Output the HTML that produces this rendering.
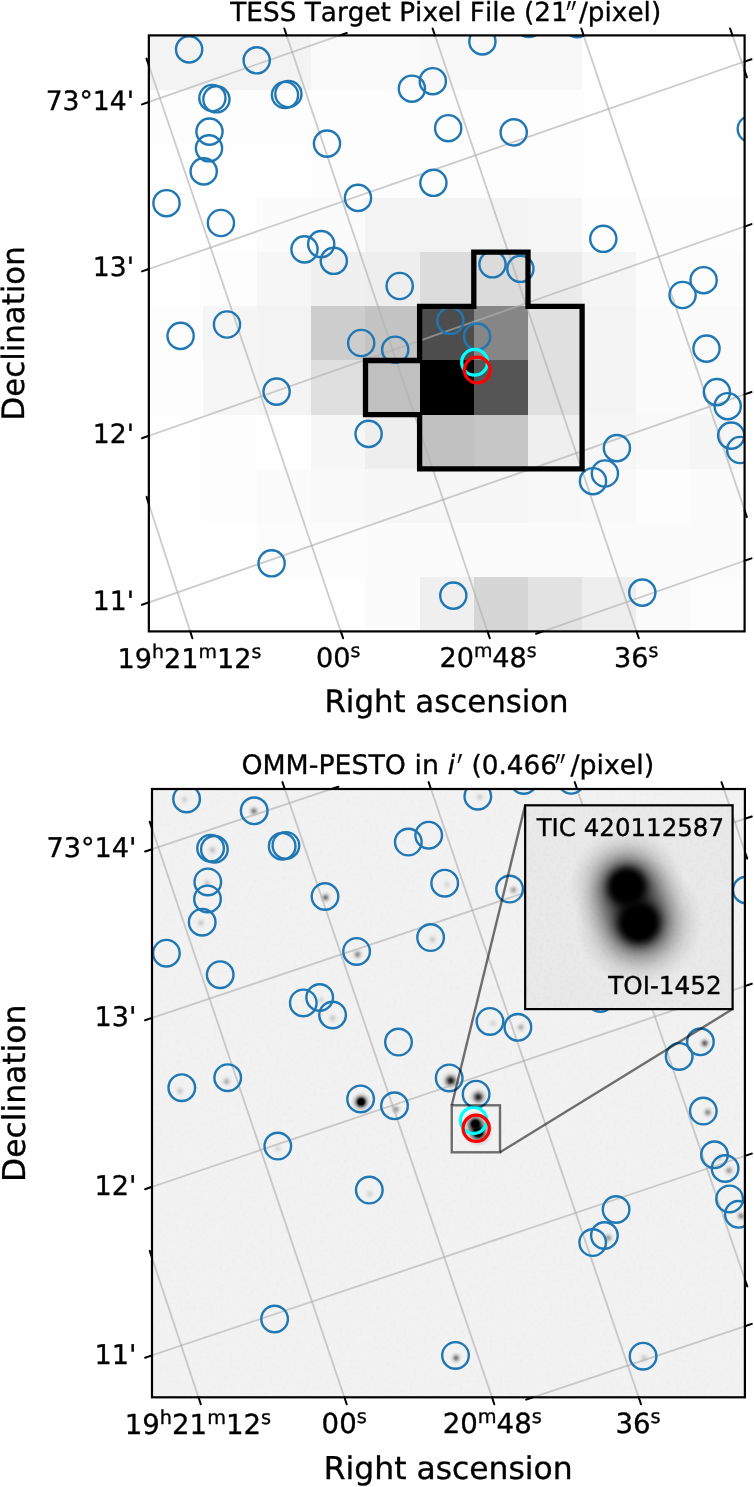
<!DOCTYPE html>
<html><head><meta charset="utf-8"><title>TESS Target Pixel File / OMM-PESTO</title>
<style>
html,body{margin:0;padding:0;background:#fff}
svg{display:block}
text{font-family:'DejaVu Sans','Liberation Sans',sans-serif;fill:#000;stroke:#000;stroke-width:0.35px;stroke-linejoin:round;font-kerning:none;text-rendering:geometricPrecision}
</style></head><body>
<svg width="754" height="1487" viewBox="0 0 754 1487">
<defs>
<clipPath id="ct"><rect x="148.85" y="35.4" width="595.75" height="596.00"/></clipPath>
<clipPath id="cb"><rect x="152.0" y="789.0" width="592.90" height="608.30"/></clipPath>
<clipPath id="ci"><rect x="525.15" y="805.3" width="207.45" height="203.80"/></clipPath>
<filter id="noise" x="0" y="0" width="100%" height="100%">
<feTurbulence type="fractalNoise" baseFrequency="0.3" numOctaves="2" seed="3" result="n"/>
<feColorMatrix type="matrix" values="0 0 0 0 0  0 0 0 0 0  0 0 0 0 0  0.9 0 0 0 -0.38"/>
</filter>
<radialGradient id="gs">
<stop offset="0.0" stop-color="#000" stop-opacity="1.000"/>
<stop offset="0.1" stop-color="#000" stop-opacity="0.956"/>
<stop offset="0.2" stop-color="#000" stop-opacity="0.835"/>
<stop offset="0.3" stop-color="#000" stop-opacity="0.667"/>
<stop offset="0.4" stop-color="#000" stop-opacity="0.487"/>
<stop offset="0.5" stop-color="#000" stop-opacity="0.325"/>
<stop offset="0.6" stop-color="#000" stop-opacity="0.198"/>
<stop offset="0.7" stop-color="#000" stop-opacity="0.110"/>
<stop offset="0.8" stop-color="#000" stop-opacity="0.056"/>
<stop offset="0.9" stop-color="#000" stop-opacity="0.026"/>
<stop offset="1.0" stop-color="#000" stop-opacity="0.000"/>
</radialGradient>
<radialGradient id="gsat">
<stop offset="0.0" stop-color="#000" stop-opacity="1.000"/>
<stop offset="0.05" stop-color="#000" stop-opacity="1.000"/>
<stop offset="0.1" stop-color="#000" stop-opacity="1.000"/>
<stop offset="0.15" stop-color="#000" stop-opacity="1.000"/>
<stop offset="0.2" stop-color="#000" stop-opacity="1.000"/>
<stop offset="0.25" stop-color="#000" stop-opacity="1.000"/>
<stop offset="0.3" stop-color="#000" stop-opacity="0.967"/>
<stop offset="0.35" stop-color="#000" stop-opacity="0.836"/>
<stop offset="0.4" stop-color="#000" stop-opacity="0.706"/>
<stop offset="0.45" stop-color="#000" stop-opacity="0.583"/>
<stop offset="0.5" stop-color="#000" stop-opacity="0.471"/>
<stop offset="0.55" stop-color="#000" stop-opacity="0.372"/>
<stop offset="0.6" stop-color="#000" stop-opacity="0.287"/>
<stop offset="0.65" stop-color="#000" stop-opacity="0.217"/>
<stop offset="0.7" stop-color="#000" stop-opacity="0.160"/>
<stop offset="0.75" stop-color="#000" stop-opacity="0.115"/>
<stop offset="0.8" stop-color="#000" stop-opacity="0.081"/>
<stop offset="0.85" stop-color="#000" stop-opacity="0.056"/>
<stop offset="0.9" stop-color="#000" stop-opacity="0.038"/>
<stop offset="0.95" stop-color="#000" stop-opacity="0.025"/>
<stop offset="1.0" stop-color="#000" stop-opacity="0.000"/>
</radialGradient>
<radialGradient id="psf">
<stop offset="0" stop-color="#000" stop-opacity="1"/>
<stop offset="0.234" stop-color="#000" stop-opacity="1"/>
<stop offset="0.281" stop-color="#000" stop-opacity="0.93"/>
<stop offset="0.328" stop-color="#000" stop-opacity="0.8"/>
<stop offset="0.375" stop-color="#000" stop-opacity="0.65"/>
<stop offset="0.422" stop-color="#000" stop-opacity="0.52"/>
<stop offset="0.469" stop-color="#000" stop-opacity="0.42"/>
<stop offset="0.531" stop-color="#000" stop-opacity="0.32"/>
<stop offset="0.594" stop-color="#000" stop-opacity="0.24"/>
<stop offset="0.672" stop-color="#000" stop-opacity="0.16"/>
<stop offset="0.766" stop-color="#000" stop-opacity="0.09"/>
<stop offset="0.875" stop-color="#000" stop-opacity="0.04"/>
<stop offset="1" stop-color="#000" stop-opacity="0"/>
</radialGradient>
</defs>
<rect width="754" height="1487" fill="#fff"/>

<g clip-path="url(#ct)">
<g shape-rendering="crispEdges">
<rect x="148.85" y="35.40" width="54.56" height="54.58" fill="#f3f3f3"/>
<rect x="203.01" y="35.40" width="54.56" height="54.58" fill="#f3f3f3"/>
<rect x="257.17" y="35.40" width="54.56" height="54.58" fill="#f3f3f3"/>
<rect x="311.33" y="35.40" width="54.56" height="54.58" fill="#fafafa"/>
<rect x="365.49" y="35.40" width="54.56" height="54.58" fill="#fafafa"/>
<rect x="419.65" y="35.40" width="54.56" height="54.58" fill="#f8f8f8"/>
<rect x="473.80" y="35.40" width="54.56" height="54.58" fill="#f8f8f8"/>
<rect x="527.96" y="35.40" width="54.56" height="54.58" fill="#f8f8f8"/>
<rect x="582.12" y="35.40" width="54.56" height="54.58" fill="#fefefe"/>
<rect x="636.28" y="35.40" width="54.56" height="54.58" fill="#fefefe"/>
<rect x="690.44" y="35.40" width="54.56" height="54.58" fill="#fefefe"/>
<rect x="148.85" y="89.58" width="54.56" height="54.58" fill="#fdfdfd"/>
<rect x="203.01" y="89.58" width="54.56" height="54.58" fill="#fdfdfd"/>
<rect x="257.17" y="89.58" width="54.56" height="54.58" fill="#fdfdfd"/>
<rect x="311.33" y="89.58" width="54.56" height="54.58" fill="#fdfdfd"/>
<rect x="365.49" y="89.58" width="54.56" height="54.58" fill="#fdfdfd"/>
<rect x="419.65" y="89.58" width="54.56" height="54.58" fill="#fdfdfd"/>
<rect x="473.80" y="89.58" width="54.56" height="54.58" fill="#fdfdfd"/>
<rect x="527.96" y="89.58" width="54.56" height="54.58" fill="#fdfdfd"/>
<rect x="582.12" y="89.58" width="54.56" height="54.58" fill="#fefefe"/>
<rect x="636.28" y="89.58" width="54.56" height="54.58" fill="#fefefe"/>
<rect x="690.44" y="89.58" width="54.56" height="54.58" fill="#fefefe"/>
<rect x="148.85" y="143.76" width="54.56" height="54.58" fill="#fefefe"/>
<rect x="203.01" y="143.76" width="54.56" height="54.58" fill="#fefefe"/>
<rect x="257.17" y="143.76" width="54.56" height="54.58" fill="#fefefe"/>
<rect x="311.33" y="143.76" width="54.56" height="54.58" fill="#fdfdfd"/>
<rect x="365.49" y="143.76" width="54.56" height="54.58" fill="#fdfdfd"/>
<rect x="419.65" y="143.76" width="54.56" height="54.58" fill="#fdfdfd"/>
<rect x="473.80" y="143.76" width="54.56" height="54.58" fill="#fdfdfd"/>
<rect x="527.96" y="143.76" width="54.56" height="54.58" fill="#fdfdfd"/>
<rect x="582.12" y="143.76" width="54.56" height="54.58" fill="#fefefe"/>
<rect x="636.28" y="143.76" width="54.56" height="54.58" fill="#fefefe"/>
<rect x="690.44" y="143.76" width="54.56" height="54.58" fill="#fefefe"/>
<rect x="148.85" y="197.95" width="54.56" height="54.58" fill="#fefefe"/>
<rect x="203.01" y="197.95" width="54.56" height="54.58" fill="#fefefe"/>
<rect x="257.17" y="197.95" width="54.56" height="54.58" fill="#fbfbfb"/>
<rect x="311.33" y="197.95" width="54.56" height="54.58" fill="#fbfbfb"/>
<rect x="365.49" y="197.95" width="54.56" height="54.58" fill="#f3f3f3"/>
<rect x="419.65" y="197.95" width="54.56" height="54.58" fill="#f3f3f3"/>
<rect x="473.80" y="197.95" width="54.56" height="54.58" fill="#f3f3f3"/>
<rect x="527.96" y="197.95" width="54.56" height="54.58" fill="#f6f6f6"/>
<rect x="582.12" y="197.95" width="54.56" height="54.58" fill="#fdfdfd"/>
<rect x="636.28" y="197.95" width="54.56" height="54.58" fill="#fdfdfd"/>
<rect x="690.44" y="197.95" width="54.56" height="54.58" fill="#fdfdfd"/>
<rect x="148.85" y="252.13" width="54.56" height="54.58" fill="#fefefe"/>
<rect x="203.01" y="252.13" width="54.56" height="54.58" fill="#fdfdfd"/>
<rect x="257.17" y="252.13" width="54.56" height="54.58" fill="#f6f6f6"/>
<rect x="311.33" y="252.13" width="54.56" height="54.58" fill="#f0f0f0"/>
<rect x="365.49" y="252.13" width="54.56" height="54.58" fill="#eeeeee"/>
<rect x="419.65" y="252.13" width="54.56" height="54.58" fill="#dcdcdc"/>
<rect x="473.80" y="252.13" width="54.56" height="54.58" fill="#dbdbdb"/>
<rect x="527.96" y="252.13" width="54.56" height="54.58" fill="#ebebeb"/>
<rect x="582.12" y="252.13" width="54.56" height="54.58" fill="#f5f5f5"/>
<rect x="636.28" y="252.13" width="54.56" height="54.58" fill="#fcfcfc"/>
<rect x="690.44" y="252.13" width="54.56" height="54.58" fill="#fcfcfc"/>
<rect x="148.85" y="306.31" width="54.56" height="54.58" fill="#fdfdfd"/>
<rect x="203.01" y="306.31" width="54.56" height="54.58" fill="#f5f5f5"/>
<rect x="257.17" y="306.31" width="54.56" height="54.58" fill="#f3f3f3"/>
<rect x="311.33" y="306.31" width="54.56" height="54.58" fill="#cdcdcd"/>
<rect x="365.49" y="306.31" width="54.56" height="54.58" fill="#c4c4c4"/>
<rect x="419.65" y="306.31" width="54.56" height="54.58" fill="#4d4d4d"/>
<rect x="473.80" y="306.31" width="54.56" height="54.58" fill="#868686"/>
<rect x="527.96" y="306.31" width="54.56" height="54.58" fill="#e1e1e1"/>
<rect x="582.12" y="306.31" width="54.56" height="54.58" fill="#f3f3f3"/>
<rect x="636.28" y="306.31" width="54.56" height="54.58" fill="#fbfbfb"/>
<rect x="690.44" y="306.31" width="54.56" height="54.58" fill="#fafafa"/>
<rect x="148.85" y="360.49" width="54.56" height="54.58" fill="#fdfdfd"/>
<rect x="203.01" y="360.49" width="54.56" height="54.58" fill="#f6f6f6"/>
<rect x="257.17" y="360.49" width="54.56" height="54.58" fill="#f4f4f4"/>
<rect x="311.33" y="360.49" width="54.56" height="54.58" fill="#dfdfdf"/>
<rect x="365.49" y="360.49" width="54.56" height="54.58" fill="#c0c0c0"/>
<rect x="419.65" y="360.49" width="54.56" height="54.58" fill="#000000"/>
<rect x="473.80" y="360.49" width="54.56" height="54.58" fill="#555555"/>
<rect x="527.96" y="360.49" width="54.56" height="54.58" fill="#e0e0e0"/>
<rect x="582.12" y="360.49" width="54.56" height="54.58" fill="#f4f4f4"/>
<rect x="636.28" y="360.49" width="54.56" height="54.58" fill="#fbfbfb"/>
<rect x="690.44" y="360.49" width="54.56" height="54.58" fill="#fafafa"/>
<rect x="148.85" y="414.67" width="54.56" height="54.58" fill="#fefefe"/>
<rect x="203.01" y="414.67" width="54.56" height="54.58" fill="#fdfdfd"/>
<rect x="257.17" y="414.67" width="54.56" height="54.58" fill="#fefefe"/>
<rect x="311.33" y="414.67" width="54.56" height="54.58" fill="#f7f7f7"/>
<rect x="365.49" y="414.67" width="54.56" height="54.58" fill="#eeeeee"/>
<rect x="419.65" y="414.67" width="54.56" height="54.58" fill="#c1c1c1"/>
<rect x="473.80" y="414.67" width="54.56" height="54.58" fill="#c6c6c6"/>
<rect x="527.96" y="414.67" width="54.56" height="54.58" fill="#efefef"/>
<rect x="582.12" y="414.67" width="54.56" height="54.58" fill="#f6f6f6"/>
<rect x="636.28" y="414.67" width="54.56" height="54.58" fill="#f9f9f9"/>
<rect x="690.44" y="414.67" width="54.56" height="54.58" fill="#f5f5f5"/>
<rect x="148.85" y="468.85" width="54.56" height="54.58" fill="#fefefe"/>
<rect x="203.01" y="468.85" width="54.56" height="54.58" fill="#fdfdfd"/>
<rect x="257.17" y="468.85" width="54.56" height="54.58" fill="#fbfbfb"/>
<rect x="311.33" y="468.85" width="54.56" height="54.58" fill="#f9f9f9"/>
<rect x="365.49" y="468.85" width="54.56" height="54.58" fill="#f7f7f7"/>
<rect x="419.65" y="468.85" width="54.56" height="54.58" fill="#f7f7f7"/>
<rect x="473.80" y="468.85" width="54.56" height="54.58" fill="#f7f7f7"/>
<rect x="527.96" y="468.85" width="54.56" height="54.58" fill="#f8f8f8"/>
<rect x="582.12" y="468.85" width="54.56" height="54.58" fill="#f9f9f9"/>
<rect x="636.28" y="468.85" width="54.56" height="54.58" fill="#fdfdfd"/>
<rect x="690.44" y="468.85" width="54.56" height="54.58" fill="#fbfbfb"/>
<rect x="148.85" y="523.04" width="54.56" height="54.58" fill="#fefefe"/>
<rect x="203.01" y="523.04" width="54.56" height="54.58" fill="#fefefe"/>
<rect x="257.17" y="523.04" width="54.56" height="54.58" fill="#fcfcfc"/>
<rect x="311.33" y="523.04" width="54.56" height="54.58" fill="#fcfcfc"/>
<rect x="365.49" y="523.04" width="54.56" height="54.58" fill="#fbfbfb"/>
<rect x="419.65" y="523.04" width="54.56" height="54.58" fill="#fbfbfb"/>
<rect x="473.80" y="523.04" width="54.56" height="54.58" fill="#fbfbfb"/>
<rect x="527.96" y="523.04" width="54.56" height="54.58" fill="#fbfbfb"/>
<rect x="582.12" y="523.04" width="54.56" height="54.58" fill="#fbfbfb"/>
<rect x="636.28" y="523.04" width="54.56" height="54.58" fill="#fbfbfb"/>
<rect x="690.44" y="523.04" width="54.56" height="54.58" fill="#fbfbfb"/>
<rect x="148.85" y="577.22" width="54.56" height="54.58" fill="#fefefe"/>
<rect x="203.01" y="577.22" width="54.56" height="54.58" fill="#fefefe"/>
<rect x="257.17" y="577.22" width="54.56" height="54.58" fill="#fefefe"/>
<rect x="311.33" y="577.22" width="54.56" height="54.58" fill="#fefefe"/>
<rect x="365.49" y="577.22" width="54.56" height="54.58" fill="#fbfbfb"/>
<rect x="419.65" y="577.22" width="54.56" height="54.58" fill="#efefef"/>
<rect x="473.80" y="577.22" width="54.56" height="54.58" fill="#d6d6d6"/>
<rect x="527.96" y="577.22" width="54.56" height="54.58" fill="#e2e2e2"/>
<rect x="582.12" y="577.22" width="54.56" height="54.58" fill="#eeeeee"/>
<rect x="636.28" y="577.22" width="54.56" height="54.58" fill="#fafafa"/>
<rect x="690.44" y="577.22" width="54.56" height="54.58" fill="#fdfdfd"/>
</g>
<g stroke="#b0b0b0" stroke-opacity="0.65" stroke-width="1.8" fill="none">
<line x1="-701.0" y1="398.3" x2="1189.7" y2="-260.9"/>
<line x1="-700.4" y1="564.8" x2="1594.4" y2="-234.4"/>
<line x1="-699.6" y1="733.9" x2="1593.6" y2="-71.7"/>
<line x1="-700.2" y1="898.9" x2="1594.2" y2="97.7"/>
<line x1="-306.4" y1="928.9" x2="1594.0" y2="263.3"/>
<line x1="-127.9" y1="-350.3" x2="467.3" y2="1486.8"/>
<line x1="-139.6" y1="-784.9" x2="629.6" y2="1482.9"/>
<line x1="-0.7" y1="-817.3" x2="774.6" y2="1483.5"/>
<line x1="146.7" y1="-817.0" x2="924.5" y2="1483.2"/>
<line x1="294.7" y1="-816.7" x2="1033.5" y2="1362.2"/>
<line x1="439.2" y1="-815.5" x2="1037.9" y2="921.4"/>
</g>
<g fill="none" stroke="#1f77b4" stroke-width="2.4">
<circle cx="189.1" cy="49.4" r="13.1"/>
<circle cx="256.7" cy="60.3" r="13.1"/>
<circle cx="212.4" cy="98.0" r="13.1"/>
<circle cx="216.4" cy="99.3" r="13.1"/>
<circle cx="285.0" cy="95.0" r="13.1"/>
<circle cx="288.4" cy="94.0" r="13.1"/>
<circle cx="209.5" cy="131.6" r="13.1"/>
<circle cx="209.0" cy="148.3" r="13.1"/>
<circle cx="203.7" cy="171.4" r="13.1"/>
<circle cx="166.5" cy="203.2" r="13.1"/>
<circle cx="327.0" cy="143.6" r="13.1"/>
<circle cx="220.9" cy="223.0" r="13.1"/>
<circle cx="482.4" cy="41.4" r="13.1"/>
<circle cx="528.9" cy="24.0" r="13.1"/>
<circle cx="411.9" cy="88.7" r="13.1"/>
<circle cx="432.8" cy="81.2" r="13.1"/>
<circle cx="448.2" cy="128.2" r="13.1"/>
<circle cx="513.7" cy="132.4" r="13.1"/>
<circle cx="433.4" cy="182.8" r="13.1"/>
<circle cx="358.0" cy="197.9" r="13.1"/>
<circle cx="577.3" cy="24.1" r="13.1"/>
<circle cx="750.8" cy="129.0" r="13.1"/>
<circle cx="304.5" cy="249.4" r="13.1"/>
<circle cx="321.2" cy="244.1" r="13.1"/>
<circle cx="333.8" cy="260.8" r="13.1"/>
<circle cx="180.6" cy="335.9" r="13.1"/>
<circle cx="227.0" cy="324.5" r="13.1"/>
<circle cx="276.6" cy="391.6" r="13.1"/>
<circle cx="399.7" cy="286.0" r="13.1"/>
<circle cx="492.5" cy="264.3" r="13.1"/>
<circle cx="520.4" cy="268.8" r="13.1"/>
<circle cx="361.2" cy="343.0" r="13.1"/>
<circle cx="395.2" cy="349.7" r="13.1"/>
<circle cx="450.4" cy="320.8" r="13.1"/>
<circle cx="477.1" cy="336.6" r="13.1"/>
<circle cx="368.6" cy="433.9" r="13.1"/>
<circle cx="603.3" cy="238.8" r="13.1"/>
<circle cx="682.6" cy="295.0" r="13.1"/>
<circle cx="703.6" cy="280.2" r="13.1"/>
<circle cx="706.5" cy="348.6" r="13.1"/>
<circle cx="716.9" cy="392.1" r="13.1"/>
<circle cx="727.7" cy="406.2" r="13.1"/>
<circle cx="731.2" cy="435.6" r="13.1"/>
<circle cx="271.6" cy="563.3" r="13.1"/>
<circle cx="453.3" cy="595.6" r="13.1"/>
<circle cx="740.2" cy="450.0" r="13.1"/>
<circle cx="616.9" cy="448.1" r="13.1"/>
<circle cx="604.9" cy="473.5" r="13.1"/>
<circle cx="593.0" cy="481.2" r="13.1"/>
<circle cx="642.3" cy="592.6" r="13.1"/>
</g>
<path d="M419.6,306.3 L473.8,306.3 L473.8,252.1 L528.0,252.1 L528.0,306.3 L582.1,306.3 L582.1,468.9 L419.6,468.9 L419.6,414.7 L365.5,414.7 L365.5,360.5 L419.6,360.5 Z" fill="none" stroke="#000" stroke-width="5.3" stroke-linejoin="miter"/>
<circle cx="474.6" cy="362.2" r="12.9" fill="none" stroke="#00ffff" stroke-width="3.3"/>
<circle cx="477.3" cy="370.0" r="12.9" fill="none" stroke="#ff0000" stroke-width="3.3"/>
</g>
<rect x="148.85" y="35.4" width="595.75" height="596.00" fill="none" stroke="#000" stroke-width="2.2"/>
<g stroke="#000" stroke-width="2" stroke-linecap="round">
<line x1="148.8" y1="102.0" x2="142.0" y2="104.4"/>
<line x1="339.9" y1="35.4" x2="346.8" y2="33.0"/>
<line x1="148.8" y1="269.0" x2="142.0" y2="271.4"/>
<line x1="744.6" y1="61.6" x2="751.5" y2="59.2"/>
<line x1="148.8" y1="435.8" x2="142.0" y2="438.2"/>
<line x1="744.6" y1="226.6" x2="751.5" y2="224.1"/>
<line x1="148.8" y1="602.4" x2="142.0" y2="604.8"/>
<line x1="744.6" y1="394.4" x2="751.5" y2="392.0"/>
<line x1="543.0" y1="631.4" x2="536.1" y2="633.8"/>
<line x1="744.6" y1="560.8" x2="751.5" y2="558.4"/>
<line x1="148.8" y1="503.9" x2="146.6" y2="496.9"/>
<line x1="190.2" y1="631.4" x2="192.4" y2="638.3"/>
<line x1="148.8" y1="65.5" x2="146.5" y2="58.6"/>
<line x1="340.8" y1="631.4" x2="343.1" y2="638.3"/>
<line x1="286.6" y1="35.4" x2="284.3" y2="28.5"/>
<line x1="487.5" y1="631.4" x2="489.8" y2="638.3"/>
<line x1="434.9" y1="35.4" x2="432.6" y2="28.5"/>
<line x1="636.5" y1="631.4" x2="638.8" y2="638.3"/>
<line x1="583.6" y1="35.4" x2="581.3" y2="28.5"/>
<line x1="744.6" y1="510.2" x2="746.9" y2="517.1"/>
<line x1="732.5" y1="35.4" x2="730.1" y2="28.5"/>
<line x1="744.6" y1="70.5" x2="747.0" y2="77.4"/>
</g>
<text x="230.3" y="20.7" font-size="26.3">TESS Target Pixel File (21</text><text transform="translate(566.24,36.40) scale(1,2.04)" font-size="23.40" letter-spacing="-0.3" style="stroke-width:0.2px">&#8242;&#8242;</text><text x="579.0" y="20.7" font-size="26.3">/pixel)</text>
<g font-size="26.6">
<text x="189.40" y="667.60" text-anchor="middle" font-size="27.1"><tspan>19</tspan><tspan dy="-9.84" font-size="18.97">h</tspan><tspan dy="9.84">21</tspan><tspan dy="-9.84" font-size="18.97">m</tspan><tspan dy="9.84">12</tspan><tspan dy="-9.84" font-size="18.97">s</tspan></text>
<text x="338.25" y="666.70" text-anchor="middle" font-size="27.1"><tspan>00</tspan><tspan dy="-9.84" font-size="18.97">s</tspan></text>
<text x="488.05" y="666.70" text-anchor="middle" font-size="27.1"><tspan>20</tspan><tspan dy="-9.84" font-size="18.97">m</tspan><tspan dy="9.84">48</tspan><tspan dy="-9.84" font-size="18.97">s</tspan></text>
<text x="636.15" y="666.70" text-anchor="middle" font-size="27.1"><tspan>36</tspan><tspan dy="-9.84" font-size="18.97">s</tspan></text>
<text x="134.00" y="109.70" text-anchor="end">73°14'</text>
<text x="134.00" y="276.00" text-anchor="end">13'</text>
<text x="134.00" y="442.90" text-anchor="end">12'</text>
<text x="134.00" y="610.00" text-anchor="end">11'</text>
</g>
<text x="446.55" y="712.20" font-size="30.8" text-anchor="middle">Right ascension</text>
<text transform="translate(24.30,333.35) rotate(-90)" font-size="30.8" text-anchor="middle">Declination</text>
<g clip-path="url(#cb)">
<rect x="152.0" y="789.0" width="592.90" height="608.30" fill="#f2f2f2"/>
<rect x="152.0" y="789.0" width="592.90" height="608.30" fill="#000" filter="url(#noise)" opacity="0.04"/>
<circle cx="361.1" cy="1101.9" r="10.2" fill="url(#gsat)"/>
<circle cx="450.7" cy="1080.7" r="10.2" fill="url(#gs)" fill-opacity="0.9"/>
<circle cx="478.3" cy="1097.1" r="10.2" fill="url(#gs)" fill-opacity="0.85"/>
<circle cx="395.8" cy="1109.5" r="6.9" fill="url(#gs)" fill-opacity="0.35"/>
<circle cx="253.9" cy="811.1" r="6.9" fill="url(#gs)" fill-opacity="0.45"/>
<circle cx="325.6" cy="897.5" r="6.9" fill="url(#gs)" fill-opacity="0.5"/>
<circle cx="212.3" cy="850.0" r="6.9" fill="url(#gs)" fill-opacity="0.18"/>
<circle cx="207.0" cy="883.0" r="6.9" fill="url(#gs)" fill-opacity="0.15"/>
<circle cx="200.9" cy="923.0" r="6.9" fill="url(#gs)" fill-opacity="0.15"/>
<circle cx="184.5" cy="799.5" r="6.9" fill="url(#gs)" fill-opacity="0.12"/>
<circle cx="513.5" cy="890.0" r="6.9" fill="url(#gs)" fill-opacity="0.3"/>
<circle cx="357.6" cy="954.5" r="6.9" fill="url(#gs)" fill-opacity="0.4"/>
<circle cx="432.5" cy="939.5" r="6.9" fill="url(#gs)" fill-opacity="0.15"/>
<circle cx="447.0" cy="884.5" r="6.9" fill="url(#gs)" fill-opacity="0.1"/>
<circle cx="704.7" cy="1043.2" r="6.9" fill="url(#gs)" fill-opacity="0.6"/>
<circle cx="707.8" cy="1112.4" r="6.9" fill="url(#gs)" fill-opacity="0.4"/>
<circle cx="719.0" cy="1158.0" r="6.9" fill="url(#gs)" fill-opacity="0.15"/>
<circle cx="729.0" cy="1170.5" r="6.9" fill="url(#gs)" fill-opacity="0.35"/>
<circle cx="741.0" cy="1216.0" r="6.9" fill="url(#gs)" fill-opacity="0.4"/>
<circle cx="608.4" cy="1237.9" r="6.9" fill="url(#gs)" fill-opacity="0.35"/>
<circle cx="456.1" cy="1358.0" r="6.9" fill="url(#gs)" fill-opacity="0.5"/>
<circle cx="644.0" cy="1358.0" r="6.9" fill="url(#gs)" fill-opacity="0.15"/>
<circle cx="520.9" cy="1027.3" r="6.9" fill="url(#gs)" fill-opacity="0.25"/>
<circle cx="493.0" cy="1023.5" r="6.9" fill="url(#gs)" fill-opacity="0.1"/>
<circle cx="226.5" cy="1081.5" r="6.9" fill="url(#gs)" fill-opacity="0.25"/>
<circle cx="180.0" cy="1091.0" r="6.9" fill="url(#gs)" fill-opacity="0.15"/>
<circle cx="332.6" cy="1018.0" r="6.9" fill="url(#gs)" fill-opacity="0.15"/>
<circle cx="321.0" cy="1000.0" r="6.9" fill="url(#gs)" fill-opacity="0.1"/>
<circle cx="277.8" cy="1149.0" r="6.9" fill="url(#gs)" fill-opacity="0.1"/>
<circle cx="369.8" cy="1194.0" r="6.9" fill="url(#gs)" fill-opacity="0.12"/>
<circle cx="480.0" cy="797.0" r="6.9" fill="url(#gs)" fill-opacity="0.12"/>
<circle cx="475.4" cy="1124.0" r="13.5" fill="url(#psf)"/>
<circle cx="478.2" cy="1132.4" r="14.9" fill="url(#psf)"/>
<g stroke="#b0b0b0" stroke-opacity="0.65" stroke-width="1.8" fill="none">
<line x1="-701.3" y1="1135.4" x2="1184.8" y2="502.8"/>
<line x1="-701.4" y1="1304.5" x2="1598.2" y2="532.3"/>
<line x1="-700.7" y1="1475.5" x2="1597.5" y2="697.5"/>
<line x1="-701.0" y1="1642.4" x2="1598.0" y2="868.9"/>
<line x1="-317.7" y1="1682.8" x2="1598.2" y2="1039.9"/>
<line x1="-132.6" y1="403.3" x2="482.6" y2="2250.4"/>
<line x1="-136.6" y1="-24.5" x2="632.5" y2="2249.0"/>
<line x1="-5.5" y1="-63.1" x2="781.9" y2="2248.4"/>
<line x1="140.1" y1="-62.9" x2="929.2" y2="2248.2"/>
<line x1="285.6" y1="-62.7" x2="1036.4" y2="2131.3"/>
<line x1="437.6" y1="-64.5" x2="1031.2" y2="1705.3"/>
</g>
<g fill="none" stroke="#1f77b4" stroke-width="2.4">
<circle cx="186.6" cy="798.9" r="13.3"/>
<circle cx="254.2" cy="810.8" r="13.3"/>
<circle cx="210.6" cy="848.2" r="13.3"/>
<circle cx="214.4" cy="849.3" r="13.3"/>
<circle cx="282.2" cy="846.3" r="13.3"/>
<circle cx="285.9" cy="845.4" r="13.3"/>
<circle cx="207.8" cy="881.9" r="13.3"/>
<circle cx="207.5" cy="898.9" r="13.3"/>
<circle cx="202.2" cy="922.2" r="13.3"/>
<circle cx="166.4" cy="953.2" r="13.3"/>
<circle cx="325.0" cy="896.5" r="13.3"/>
<circle cx="220.2" cy="974.7" r="13.3"/>
<circle cx="477.8" cy="796.2" r="13.3"/>
<circle cx="523.7" cy="780.5" r="13.3"/>
<circle cx="408.3" cy="842.1" r="13.3"/>
<circle cx="428.7" cy="835.2" r="13.3"/>
<circle cx="444.7" cy="883.2" r="13.3"/>
<circle cx="509.6" cy="889.1" r="13.3"/>
<circle cx="430.6" cy="937.6" r="13.3"/>
<circle cx="356.6" cy="951.4" r="13.3"/>
<circle cx="571.2" cy="780.3" r="13.3"/>
<circle cx="746.3" cy="890.0" r="13.3"/>
<circle cx="303.3" cy="1002.9" r="13.3"/>
<circle cx="319.7" cy="997.5" r="13.3"/>
<circle cx="332.6" cy="1015.0" r="13.3"/>
<circle cx="181.8" cy="1087.7" r="13.3"/>
<circle cx="227.7" cy="1077.7" r="13.3"/>
<circle cx="277.8" cy="1146.1" r="13.3"/>
<circle cx="398.5" cy="1042.1" r="13.3"/>
<circle cx="490.0" cy="1021.4" r="13.3"/>
<circle cx="517.9" cy="1027.3" r="13.3"/>
<circle cx="360.6" cy="1098.9" r="13.3"/>
<circle cx="394.5" cy="1105.8" r="13.3"/>
<circle cx="449.2" cy="1077.9" r="13.3"/>
<circle cx="476.1" cy="1094.2" r="13.3"/>
<circle cx="369.3" cy="1190.1" r="13.3"/>
<circle cx="600.4" cy="998.5" r="13.3"/>
<circle cx="679.2" cy="1056.4" r="13.3"/>
<circle cx="700.4" cy="1041.8" r="13.3"/>
<circle cx="703.3" cy="1111.1" r="13.3"/>
<circle cx="714.5" cy="1154.8" r="13.3"/>
<circle cx="725.1" cy="1168.5" r="13.3"/>
<circle cx="729.6" cy="1198.9" r="13.3"/>
<circle cx="274.6" cy="1319.0" r="13.3"/>
<circle cx="455.5" cy="1355.4" r="13.3"/>
<circle cx="738.4" cy="1214.3" r="13.3"/>
<circle cx="616.1" cy="1209.5" r="13.3"/>
<circle cx="604.4" cy="1235.5" r="13.3"/>
<circle cx="592.7" cy="1242.6" r="13.3"/>
<circle cx="643.1" cy="1356.2" r="13.3"/>
</g>
<circle cx="473.6" cy="1120.4" r="13.100000000000001" fill="none" stroke="#00ffff" stroke-width="3.3"/>
<circle cx="476.2" cy="1128.3" r="13.100000000000001" fill="none" stroke="#ff0000" stroke-width="3.3"/>
<g fill="none" stroke="#000" stroke-opacity="0.55" stroke-width="2.4">
<rect x="451.75" y="1105.3" width="48.25" height="47.0"/>
<line x1="451.75" y1="1105.3" x2="525.15" y2="805.3"/>
<line x1="500.0" y1="1152.3" x2="732.6" y2="1009.1"/>
</g>
<g clip-path="url(#ci)">
<rect x="525.15" y="805.3" width="207.45" height="203.80" fill="#e9e9e9"/>
<rect x="525.15" y="805.3" width="207.45" height="203.80" fill="#000" filter="url(#noise)" opacity="0.06"/>
<circle cx="626.9" cy="886.6" r="58" fill="url(#psf)"/>
<circle cx="639.0" cy="922.8" r="64" fill="url(#psf)"/>
</g>
<rect x="525.15" y="805.3" width="207.45" height="203.80" fill="none" stroke="#000" stroke-width="2.2"/>
<text x="724.0" y="835.6" font-size="24.5" text-anchor="end">TIC 420112587</text>
<text x="721.7" y="993.8" font-size="24.7" text-anchor="end">TOI-1452</text>
</g>
<rect x="152.0" y="789.0" width="592.90" height="608.30" fill="none" stroke="#000" stroke-width="2.2"/>
<g stroke="#000" stroke-width="2" stroke-linecap="round">
<line x1="152.0" y1="849.2" x2="145.1" y2="851.5"/>
<line x1="331.5" y1="789.0" x2="338.4" y2="786.7"/>
<line x1="152.0" y1="1017.9" x2="145.1" y2="1020.3"/>
<line x1="744.9" y1="818.8" x2="751.8" y2="816.5"/>
<line x1="152.0" y1="1186.8" x2="145.1" y2="1189.2"/>
<line x1="744.9" y1="986.1" x2="751.8" y2="983.8"/>
<line x1="152.0" y1="1355.4" x2="145.1" y2="1357.7"/>
<line x1="744.9" y1="1155.9" x2="751.8" y2="1153.6"/>
<line x1="533.1" y1="1397.3" x2="526.2" y2="1399.6"/>
<line x1="744.9" y1="1326.2" x2="751.8" y2="1323.9"/>
<line x1="152.0" y1="1257.8" x2="149.7" y2="1250.9"/>
<line x1="198.5" y1="1397.3" x2="200.8" y2="1404.2"/>
<line x1="152.0" y1="828.6" x2="149.7" y2="821.7"/>
<line x1="344.4" y1="1397.3" x2="346.7" y2="1404.2"/>
<line x1="284.8" y1="789.0" x2="282.4" y2="782.1"/>
<line x1="492.0" y1="1397.3" x2="494.3" y2="1404.2"/>
<line x1="431.0" y1="789.0" x2="428.6" y2="782.1"/>
<line x1="638.7" y1="1397.3" x2="641.0" y2="1404.2"/>
<line x1="577.1" y1="789.0" x2="574.7" y2="782.1"/>
<line x1="744.9" y1="1279.5" x2="747.3" y2="1286.4"/>
<line x1="723.9" y1="789.0" x2="721.5" y2="782.1"/>
<line x1="744.9" y1="851.7" x2="747.2" y2="858.6"/>
</g>
<text x="241.4" y="773.6" font-size="26.8">OMM-PESTO in</text><text x="447.7" y="773.6" font-size="26.5" font-style="italic">i</text><text transform="translate(457.14,788.60) scale(1,2.04)" font-size="23.40" letter-spacing="-0.3" style="stroke-width:0.2px">&#8242;</text><text x="471.5" y="773.6" font-size="26.3">(0.466</text><text transform="translate(555.34,788.60) scale(1,2.04)" font-size="23.40" letter-spacing="-0.3" style="stroke-width:0.2px">&#8242;&#8242;</text><text x="570.5" y="773.6" font-size="26.8">/pixel)</text>
<g font-size="27.1">
<text x="197.90" y="1434.20" text-anchor="middle" font-size="27.6"><tspan>19</tspan><tspan dy="-10.02" font-size="19.32">h</tspan><tspan dy="10.02">21</tspan><tspan dy="-10.02" font-size="19.32">m</tspan><tspan dy="10.02">12</tspan><tspan dy="-10.02" font-size="19.32">s</tspan></text>
<text x="344.20" y="1433.30" text-anchor="middle" font-size="27.6"><tspan>00</tspan><tspan dy="-10.02" font-size="19.32">s</tspan></text>
<text x="492.20" y="1433.30" text-anchor="middle" font-size="27.6"><tspan>20</tspan><tspan dy="-10.02" font-size="19.32">m</tspan><tspan dy="10.02">48</tspan><tspan dy="-10.02" font-size="19.32">s</tspan></text>
<text x="638.00" y="1433.30" text-anchor="middle" font-size="27.6"><tspan>36</tspan><tspan dy="-10.02" font-size="19.32">s</tspan></text>
<text x="136.45" y="857.05" text-anchor="end">73°14'</text>
<text x="136.45" y="1025.90" text-anchor="end">13'</text>
<text x="136.45" y="1194.80" text-anchor="end">12'</text>
<text x="136.45" y="1363.65" text-anchor="end">11'</text>
</g>
<text x="448.25" y="1479.40" font-size="31.4" text-anchor="middle">Right ascension</text>
<text transform="translate(24.90,1093.30) rotate(-90)" font-size="31.4" text-anchor="middle">Declination</text>
</svg></body></html>
